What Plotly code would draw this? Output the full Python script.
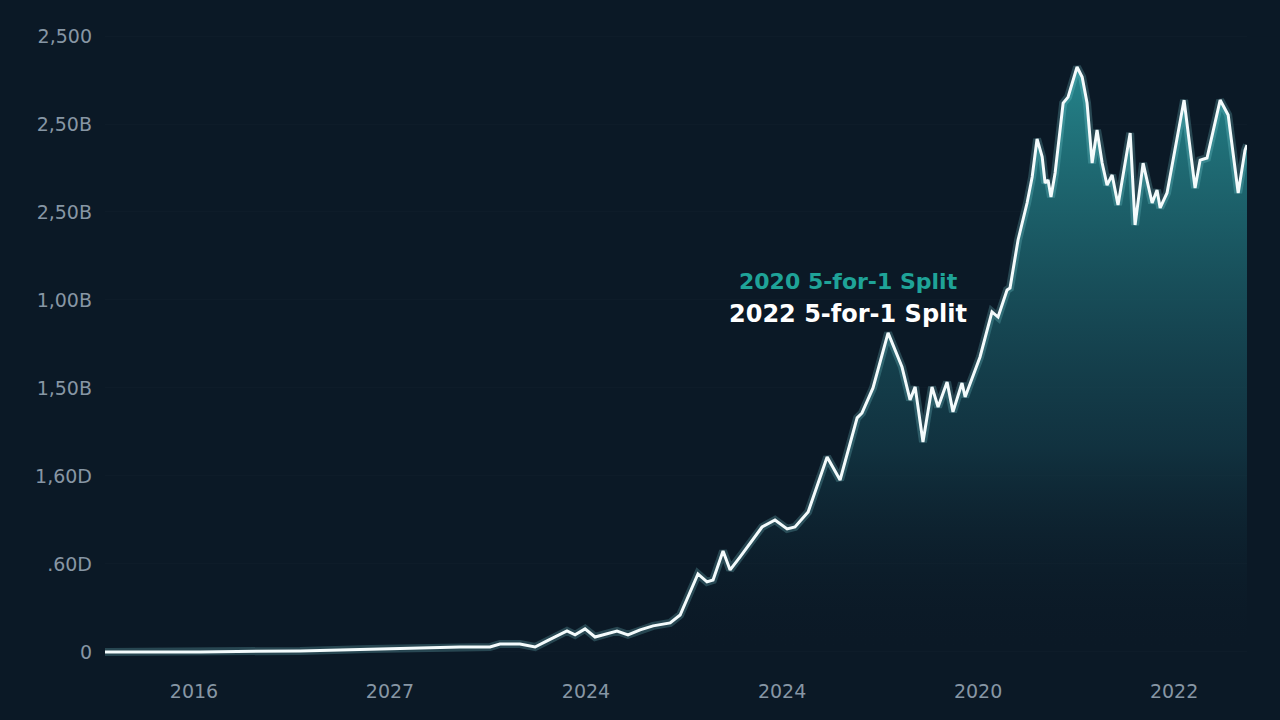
import plotly.graph_objects as go

# x in tick units (0 = first label), y in chart units (tick step 500)
t = [-0.454, 0.031, 0.541, 0.898, 1.204, 1.357, 1.510, 1.561, 1.663, 1.740,
     1.801, 1.903, 1.944, 1.995, 2.046, 2.158, 2.214, 2.276, 2.342, 2.429,
     2.480, 2.571, 2.617, 2.648, 2.699, 2.735, 2.786, 2.898, 2.964, 3.026,
     3.066, 3.133, 3.230, 3.296, 3.383, 3.408, 3.464, 3.541, 3.612, 3.653,
     3.679, 3.719, 3.765, 3.796, 3.842, 3.872, 3.918, 3.934, 4.010, 4.071,
     4.102, 4.148, 4.163, 4.204, 4.250, 4.276, 4.301, 4.327, 4.342, 4.357,
     4.372, 4.393, 4.434, 4.459, 4.505, 4.531, 4.556, 4.582, 4.607, 4.633,
     4.658, 4.684, 4.714, 4.776, 4.801, 4.842, 4.888, 4.913, 4.929, 4.964,
     5.051, 5.107, 5.133, 5.168, 5.235, 5.276, 5.327, 5.362, 5.372]
value = [0, 0, 6, 17, 23, 28, 28, 45, 45, 28,
         63, 119, 97, 131, 85, 119, 97, 125, 148, 165,
         210, 443, 398, 409, 574, 466, 540, 710, 750, 699,
         710, 795, 1108, 977, 1330, 1358, 1500, 1813, 1619, 1432,
         1506, 1193, 1506, 1392, 1534, 1364, 1528, 1449, 1676, 1932,
         1903, 2057, 2068, 2341, 2551, 2699, 2915, 2813, 2665, 2682,
         2585, 2722, 3119, 3153, 3324, 3267, 3119, 2778, 2966, 2778,
         2653, 2710, 2540, 2949, 2426, 2778, 2551, 2625, 2523, 2608,
         3136, 2636, 2795, 2807, 3136, 3051, 2608, 2852, 2881]

x_ticks = [0, 1, 2, 3, 4, 5]
x_labels = ["2016", "2027", "2024", "2024", "2020", "2022"]
y_ticks = [0, 500, 1000, 1500, 2000, 2500, 3000, 3500]
y_labels = ["0", ".60D", "1,60D", "1,50B", "1,00B", "2,50B", "2,50B", "2,500"]

split_notes = ["2020 5-for-1 Split", "2022 5-for-1 Split"]

bg = "#0b1926"
tick_font = dict(family="DejaVu Sans, sans-serif", size=19, color="#8796a4")

fig = go.Figure()

# gradient area under the line
fig.add_trace(go.Scatter(
    x=t, y=value,
    mode="lines",
    line=dict(width=0),
    fill="tozeroy",
    fillgradient=dict(
        type="vertical",
        colorscale=[[0, "rgba(11,25,38,0)"], [0.35, "rgba(22,70,84,0.55)"], [1, "rgba(38,138,144,0.95)"]],
    ),
    hoverinfo="skip",
    showlegend=False,
))

# soft glow
fig.add_trace(go.Scatter(
    x=t, y=value, mode="lines",
    line=dict(color="rgba(140,230,235,0.22)", width=8),
    hoverinfo="skip", showlegend=False,
))

# main line
fig.add_trace(go.Scatter(
    x=t, y=value, mode="lines",
    line=dict(color="#f4fbfc", width=3),
    showlegend=False,
))

fig.add_annotation(x=3.337, y=2106, text=split_notes[0], showarrow=False,
                   font=dict(family="DejaVu Sans, sans-serif", size=22, color="#1fa398", weight="bold"))
fig.add_annotation(x=3.337, y=1920, text=split_notes[1], showarrow=False,
                   font=dict(family="DejaVu Sans, sans-serif", size=24, color="#ffffff", weight="bold"))

fig.update_layout(
    width=1280, height=720,
    paper_bgcolor=bg, plot_bgcolor=bg,
    margin=dict(l=105, r=33, t=20, b=48),
    showlegend=False,
)
fig.update_xaxes(
    range=[-0.454, 5.372],
    tickvals=x_ticks, ticktext=x_labels,
    tickfont=tick_font, ticklabelstandoff=6,
    showgrid=False, zeroline=False, showline=False,
)
fig.update_yaxes(
    range=[-114, 3591],
    tickvals=y_ticks, ticktext=y_labels,
    tickfont=tick_font, ticklabelstandoff=12,
    showgrid=True, gridcolor="rgba(255,255,255,0.015)",
    zeroline=False, showline=False,
)

fig.write_html(
    "out.html",
    config={"displayModeBar": False},
    post_script="document.body.style.margin='0';document.body.style.background='%s';" % bg,
)
